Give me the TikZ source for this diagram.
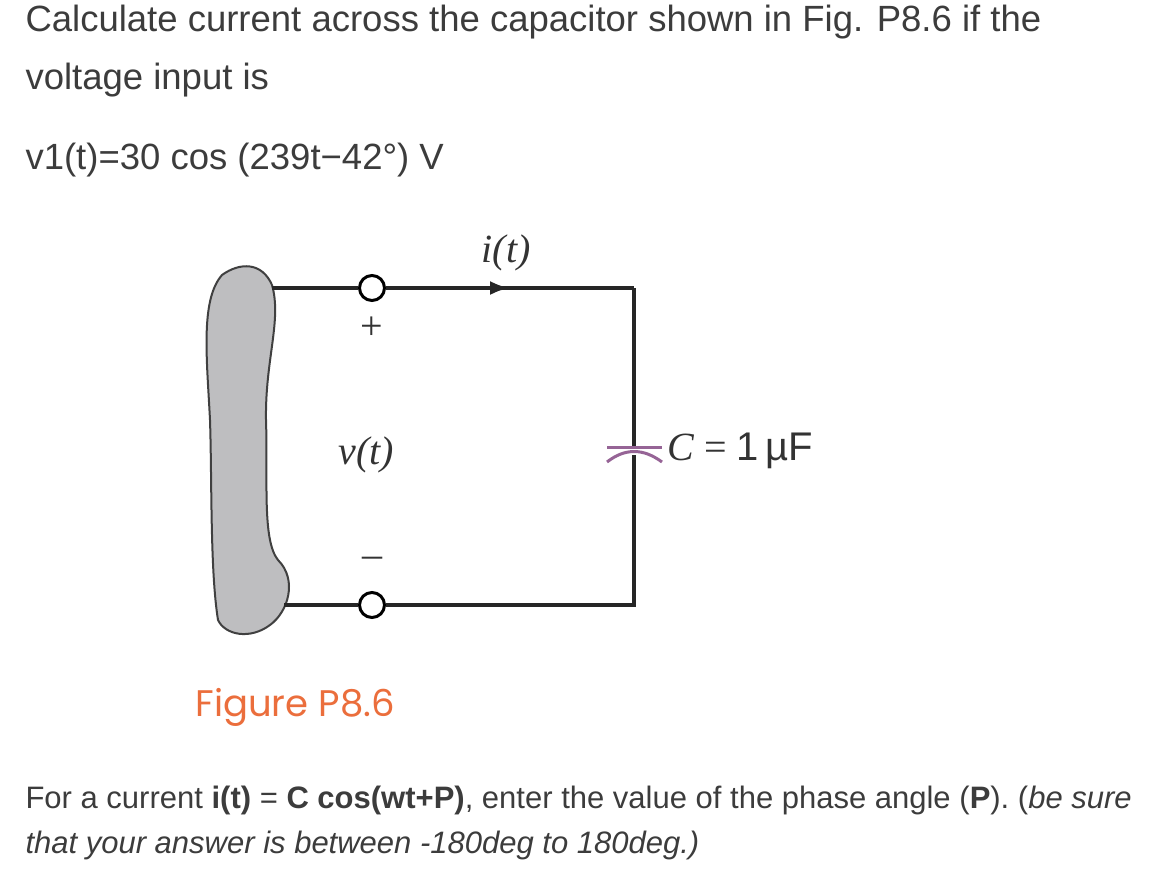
\documentclass[tikz,border=0pt]{standalone}
\usepackage{fontspec}
\setmainfont{Liberation Sans}
\newfontfamily\serifit{Liberation Serif}
\newfontfamily\figfont{Poppins}
\usetikzlibrary{arrows.meta,decorations.markings}
\definecolor{txt}{RGB}{60,60,60}
\definecolor{capc}{RGB}{150,100,150}
\definecolor{figc}{RGB}{235,110,60}
\definecolor{blobc}{RGB}{190,190,192}
\tikzset{
 wire/.style={line width=4pt,draw=black!85},
 term/.style={circle,draw,line width=3pt,fill=white,minimum size=25pt,inner sep=0pt},
 body/.style={anchor=west,text=txt,font=\fontsize{36.5}{40}\selectfont},
 small/.style={anchor=west,text=txt,font=\fontsize{31}{36}\selectfont},
 lab/.style={font=\serifit\fontsize{40}{44}\selectfont,text=black!80}
}
\begin{document}
\begin{tikzpicture}[x=1pt,y=-1pt]
\useasboundingbox (0,0) rectangle (1174,870);
\node[body] (l1) at (22,22) {Calculate current across the capacitor shown in Fig. P8.6 if the};
\node[body] (l2) at (22,80) {voltage input is};
\node[body] (l3) at (22,160) {v1(t)=30 cos (239t−42°) V};
% blob
\draw[fill=blobc,line width=2pt,draw=black!75] (222,275) .. controls (240,262) and (262,262) .. (272,285)
 .. controls (282,320) and (265,360) .. (266,420) .. controls (268,480) and (262,540) .. (278,560)
 .. controls (298,580) and (288,612) .. (270,625) .. controls (250,640) and (225,635) .. (218,620)
 .. controls (210,570) and (212,480) .. (210,420) .. controls (207,360) and (200,300) .. (222,275) -- cycle;
\node[term] (tp) at (372,288) {};
\node[term] (tm) at (372,605) {};
\coordinate (bt) at (272,288);
\coordinate (bb) at (284,605);
\coordinate (tr) at (634,288);
\coordinate (br) at (634,605);
\coordinate (ct) at (634,447);
\coordinate (cb) at (634,455);
\draw[wire] (bt) -- (tp);
\draw[wire] (bb) -- (tm);
\draw[wire,postaction={decorate},decoration={markings,mark=at position 0.5 with {\arrow{Latex[length=20pt,width=14pt]}}}] (tp) -- (tr);
\draw[wire] (tr) -- (ct);
\draw[wire] (cb) -- (br) -- (tm);
\draw[capc,line width=3pt] (607,447) -- (662,447);
\draw[capc,line width=3pt] (607,462) .. controls (625,448) and (643,448) .. (662,462);
\node[lab] (it) at (506,253) {\itshape i(t)};
\node[lab] (plus) at (372,328) {+};
\node[lab] (vt) at (366,455) {\itshape v(t)};
\node[lab] (minus) at (372,562) {–};
\node[lab,anchor=west] (cl) at (664,451) {\itshape C\upshape\ = {\fontspec{Liberation Sans}1\,µF}};
\node[anchor=west,text=figc,font=\figfont\fontsize{37}{44}\selectfont] (fig) at (192,707) {Figure P8.6};
\node[small] (b1) at (22,800) {For a current \textbf{i(t)} = \textbf{C cos(wt+P)}, enter the value of the phase angle (\textbf{P}). (\textit{be sure}};
\node[small] (b2) at (22,845) {\textit{that your answer is between -180deg to 180deg.)}};
\end{tikzpicture}
\end{document}
